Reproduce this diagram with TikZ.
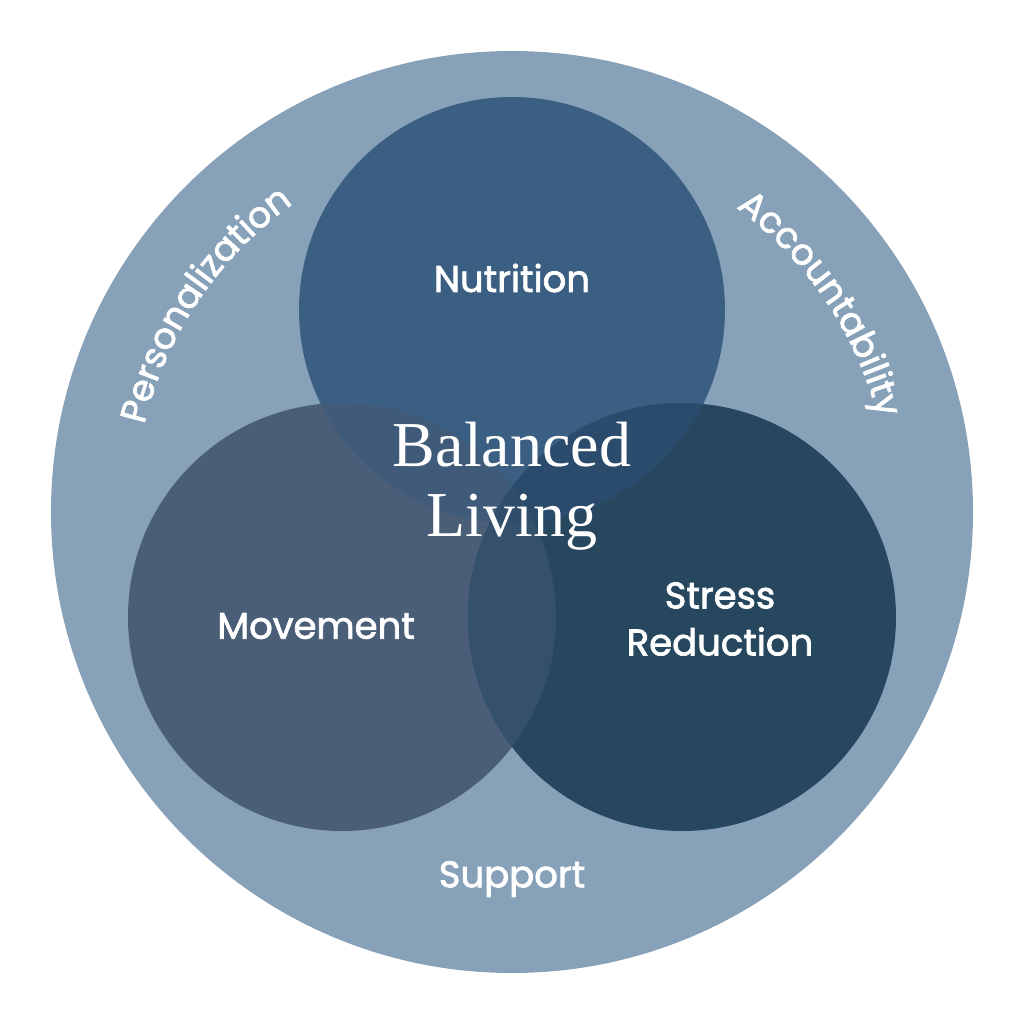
\documentclass[tikz,border=0pt]{standalone}
\usepackage{fontspec}
\setmainfont{Liberation Serif}
\newfontfamily\lab{Poppins}[FakeBold=2]
\usetikzlibrary{decorations.text}
\definecolor{outerc}{HTML}{87A1B8}
\definecolor{topc}{HTML}{3B5F82}
\definecolor{leftc}{HTML}{4A5F77}
\definecolor{rightc}{HTML}{27475F}
\definecolor{tlc}{HTML}{3F5B79}
\definecolor{trc}{HTML}{2B4B6C}
\definecolor{lrc}{HTML}{34506A}
\definecolor{allc}{HTML}{304D6C}
\tikzset{lbl/.style={text=white,font=\lab\fontsize{37}{47}\selectfont,align=center}}
\begin{document}
\begin{tikzpicture}[x=1pt,y=1pt]
\useasboundingbox (-512,-512) rectangle (512,512);
\fill[white] (-512,-512) rectangle (512,512);
\fill[outerc] (0,0) circle (461);
\fill[topc] (0,202) circle (213);
\fill[leftc] (-170,-105) circle (214);
\fill[rightc] (170,-105) circle (214);
\begin{scope}\clip (0,202) circle (213); \fill[tlc] (-170,-105) circle (214);\end{scope}
\begin{scope}\clip (0,202) circle (213); \fill[trc] (170,-105) circle (214);\end{scope}
\begin{scope}\clip (-170,-105) circle (214); \fill[lrc] (170,-105) circle (214);\end{scope}
\begin{scope}\clip (0,202) circle (213); \clip (-170,-105) circle (214); \fill[allc] (170,-105) circle (214);\end{scope}
\node[lbl] (nut) at (0,234) {Nutrition};
\node[lbl] (mov) at (-196,-114) {Movement};
\node[lbl] (str) at (208,-107) {Stress\\Reduction};
\node[lbl] (sup) at (0,-367) {Support};
\node[text=white,font=\fontsize{64}{70}\selectfont,align=center] (bal) at (0,26) {Balanced\\Living};
\path[decorate,decoration={text along path,text align=center,
 text={|\lab\fontsize{36}{36}\selectfont\color{white}|Personalization}}]
 (172:378) arc (172:120:378);
\path[decorate,decoration={text along path,text align=center,
 text={|\lab\fontsize{36}{36}\selectfont\color{white}|Accountability}}]
 (60:378) arc (60:8:378);
\end{tikzpicture}
\end{document}
